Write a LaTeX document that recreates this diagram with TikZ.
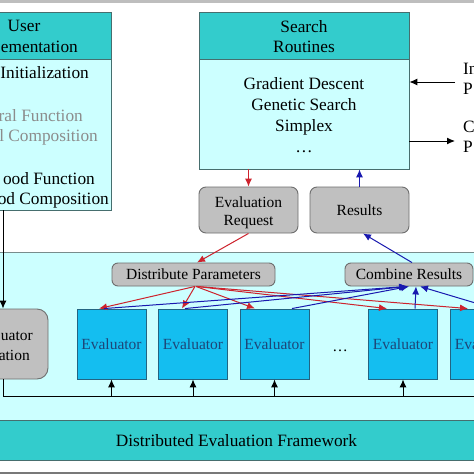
\documentclass[tikz,border=0pt]{standalone}
\usepackage{fontspec}
\setmainfont{Liberation Serif}
\usetikzlibrary{arrows.meta}
\definecolor{tealc}{RGB}{51,204,204}
\definecolor{cyanc}{RGB}{204,255,255}
\definecolor{bordc}{RGB}{70,110,110}
\definecolor{gfill}{RGB}{192,192,192}
\definecolor{gbord}{RGB}{110,110,110}
\definecolor{evfill}{RGB}{20,190,240}
\definecolor{evbord}{RGB}{35,100,130}
\definecolor{evtext}{RGB}{30,70,120}
\definecolor{redc}{RGB}{205,35,45}
\definecolor{bluec}{RGB}{25,25,175}
\definecolor{graytext}{RGB}{140,140,140}
\definecolor{topbar}{RGB}{190,190,190}
\definecolor{botbar}{RGB}{120,120,120}
\definecolor{panelb}{RGB}{120,140,140}
\begin{document}
\begin{tikzpicture}[x=1pt,y=-1pt,
  bigf/.style={font=\fontsize{17.3}{21}\selectfont},
  smf/.style={font=\fontsize{15.5}{19}\selectfont},
  hdrbox/.style={draw=bordc,fill=tealc,line width=0.9pt,inner sep=0pt},
  bodybox/.style={draw=bordc,fill=cyanc,line width=0.9pt,inner sep=0pt},
  gbox/.style={draw=gbord,fill=gfill,line width=0.9pt,rounded corners=7pt,inner sep=0pt,smf},
  evbox/.style={draw=evbord,fill=evfill,line width=0.9pt,inner sep=0pt,minimum width=69pt,minimum height=70pt,text=evtext,smf},
  tl/.style={inner sep=0pt,anchor=base,bigf},
  tle/.style={inner sep=0pt,anchor=base east,bigf},
  tlw/.style={inner sep=0pt,anchor=base west,bigf},
  tips/.style={-{Latex[length=8pt,width=7pt]}},
  redar/.style={tips,draw=redc,line width=1pt},
  bluar/.style={tips,draw=bluec,line width=1pt},
  blkar/.style={tips,draw=black,line width=1pt},
  blkline/.style={draw=black,line width=1pt}
]
\useasboundingbox (0,0) rectangle (474,474);
\clip (0,0) rectangle (474,474);
\fill[white] (0,0) rectangle (474,474);
% bars at top and bottom
\fill[topbar] (0,0) rectangle (474,2.5);
\fill[botbar] (0,472) rectangle (474,474);

% large panel and framework bar
\node[draw=panelb,fill=cyanc,line width=0.9pt,inner sep=0pt,minimum width=520pt,minimum height=208pt] (panel) at (237,356) {};
\node[hdrbox,minimum width=520pt,minimum height=40pt] (fwbar) at (237,440) {};
\node[tl] (fw) at (236.5,446.7) {Distributed Evaluation Framework};

% user implementation box
\node[hdrbox,minimum width=174pt,minimum height=47pt] (uh) at (24,35.5) {};
\node[bodybox,minimum width=174pt,minimum height=151pt] (ub) at (24,134.5) {};
\node[tl] (uh1) at (24,31.7) {User};
\node[tle] (uh2) at (78,52.7) {ementation};
\node[tle] (ub1) at (89,78) {Initialization};
\node[tle,text=graytext] (ub2) at (83,121) {ral Function};
\node[tle,text=graytext] (ub3) at (98,141.5) {l Composition};
\node[tle] (ub4) at (95,184) {ood Function};
\node[tle] (ub5) at (109,204.5) {od Composition};

% search routines box
\node[hdrbox,minimum width=210pt,minimum height=47pt] (sh) at (304,35.5) {};
\node[bodybox,minimum width=210pt,minimum height=110pt] (sb) at (304,114) {};
\node[tl] (sh1) at (304,32) {Search};
\node[tl] (sh2) at (304,52.7) {Routines};
\node[tl] (sb1) at (304,89) {Gradient Descent};
\node[tl] (sb2) at (304,110) {Genetic Search};
\node[tl] (sb3) at (304,131) {Simplex};
\node[tl] (sb4) at (304,152) {…};

% right-hand labels
\node[tlw] (in1) at (463,74) {In};
\node[tlw] (in2) at (463,94) {P};
\node[tlw] (out1) at (463,132) {C};
\node[tlw] (out2) at (463,152) {P};
\coordinate (inS) at (455,82);
\coordinate (outE) at (455,141);
\draw[blkar] (inS) -- (inS -| sb.east);
\draw[blkar] (outE -| sb.east) -- (outE);

% request / results
\node[gbox,minimum width=99pt,minimum height=46pt] (er) at (248.5,210) {};
\node[tl,smf] (er1) at (248.5,207) {Evaluation};
\node[tl,smf] (er2) at (248.5,225) {Request};
\node[gbox,minimum width=99pt,minimum height=46pt] (rs) at (359.5,210) {Results};

% distribute / combine
\node[gbox,rounded corners=6pt,minimum width=163pt,minimum height=23pt] (dp) at (193.5,274.5) {Distribute Parameters};
\node[gbox,rounded corners=6pt,minimum width=128pt,minimum height=23pt] (cb) at (409,274.5) {Combine Results};

% evaluator creation
\node[gbox,rounded corners=11pt,minimum width=90pt,minimum height=70pt] (ec) at (3,344) {};
\node[tle,smf] (ec1) at (33,340.7) {uator};
\node[tle,smf] (ec2) at (30,360) {ation};

% evaluators
\node[evbox] (e1) at (111.5,344) {Evaluator};
\node[evbox] (e2) at (193,344) {Evaluator};
\node[evbox] (e3) at (274.5,344) {Evaluator};
\node[evbox] (e4) at (403,344) {Evaluator};
\node[evbox] (e5) at (485,344) {Evaluator};
\node[tl,smf] (dots) at (340,351) {…};

% black connectors
\draw[blkar] (ec.north |- ub.south) -- (ec.north);
\coordinate (busL) at (3,396);
\coordinate (busR) at (480,396);
\draw[blkline] (ec.south) -- (ec.south |- busL) -- (busR);
\foreach \e in {e1,e2,e3,e4,e5}{
  \draw[blkar] (\e.south |- busL) -- (\e.south);
}

% red connectors
\draw[redar] (er.north |- sb.south) -- (er.north);
\draw[redar] (er.south) -- ([xshift=3.5pt]dp.north);
\draw[redar] ([xshift=1.5pt]dp.south) -- ([xshift=-12.5pt]e1.north);
\draw[redar] ([xshift=1.5pt]dp.south) -- ([xshift=-11pt]e2.north);
\draw[redar] ([xshift=2.5pt]dp.south) -- ([xshift=-19.5pt]e3.north);
\draw[redar] ([xshift=3pt]dp.south) -- ([xshift=-16pt]e4.north);
\draw[redar] ([xshift=3.5pt]dp.south) -- ([xshift=-17pt]e5.north);

% blue connectors
\draw[bluar] (rs.north) -- (rs.north |- sb.south);
\draw[bluar] ([xshift=3pt]cb.north) -- ([xshift=3.5pt]rs.south);
\draw[bluar] ([xshift=-7.5pt]e1.north) -- ([xshift=-2pt]cb.south);
\draw[bluar] ([xshift=-8pt]e2.north) -- ([xshift=-1pt]cb.south);
\draw[bluar] ([xshift=17.5pt]e3.north) -- ([xshift=0pt]cb.south);
\draw[bluar] ([xshift=12pt]e4.north) -- ([xshift=7pt]cb.south);
\draw[bluar] ([xshift=9pt]e5.north) -- ([xshift=11pt]cb.south);
\end{tikzpicture}
\end{document}
